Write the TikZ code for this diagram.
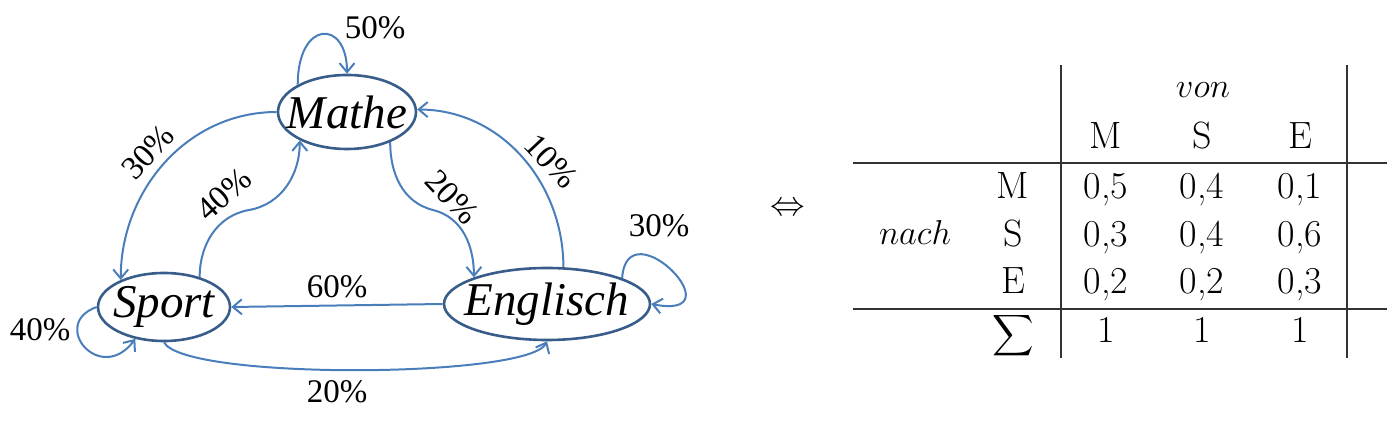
\documentclass[tikz,border=0pt]{standalone}
\usepackage{exscale}
\usepackage{fontspec}
\newfontfamily\tnr{Liberation Serif}
\usetikzlibrary{shapes.geometric,arrows.meta}
\definecolor{edgeblue}{HTML}{4A7EBB}
\definecolor{nodeblue}{HTML}{385D8A}
\begin{document}
\begin{tikzpicture}[x=0.5pt,y=0.5pt,
  state/.style={ellipse,draw=nodeblue,line width=1.3pt,inner sep=0pt,fill=white},
  stext/.style={font=\tnr\itshape\fontsize{23.5}{28}\selectfont,inner sep=0pt},
  edge/.style={draw=edgeblue,line width=1pt,-{Straight Barb[length=4.5pt,width=7.5pt]}},
  pct/.style={font=\tnr\fontsize{16.5}{20}\selectfont,inner sep=0pt},
  cell/.style={font=\fontsize{19}{23}\selectfont,anchor=base,inner sep=0pt},
  tablerule/.style={line width=0.7pt,draw=black!80}]
\useasboundingbox (0,0) rectangle (1397,-421);

% states
\node[state,minimum width=69pt,minimum height=37pt,label={[stext]center:Mathe}] (M) at (347,-112) {};
\node[state,minimum width=66pt,minimum height=34pt,label={[stext]center:Sport}] (S) at (164,-307) {};
\node[state,minimum width=103pt,minimum height=36pt,label={[stext]center:Englisch}] (E) at (547,-304) {};

% helper coordinates
\coordinate (k40) at (249,-210);
\coordinate (k20) at (433,-210);

% edges
\draw[edge] (M.180) to[out=180,in=90] (S.148);
\draw[edge] (S.40) to[out=90,in=190] (k40) to[out=10,in=-90] (M.211);
\draw[edge] (M.-35) to[out=-90,in=166] (k20) to[out=-14,in=90] (E.160);
\draw[edge] (E.66) to[out=90,in=0] (M.2);
\draw[edge] (E.180) -- (S.0);
\draw[edge] (S.270) .. controls +(20,-38) and +(-18,-37) .. (E.270);
% loops
\draw[edge] (M.151) .. controls +(0,65) and +(0,55) .. (M.90);
\draw[edge] (S.180) .. controls +(-48,-17) and +(-35,-47) .. (S.228);
\draw[edge] (E.19) .. controls +(5,72) and +(88,-17) .. (E.0);

% edge labels
\node[pct] (l50) at (375,-28) {50\%};
\node[pct,rotate=47] (l30a) at (148,-152) {30\%};
\node[pct,rotate=42] (l40a) at (224,-194) {40\%};
\node[pct,rotate=-47] (l20a) at (452,-197) {20\%};
\node[pct,rotate=-47] (l10) at (551,-161) {10\%};
\node[pct] (l60) at (337,-287) {60\%};
\node[pct] (l20b) at (337,-392) {20\%};
\node[pct] (l30b) at (659,-226) {30\%};
\node[pct] (l40b) at (40,-330) {40\%};

% equivalence
\node[cell,anchor=center] (iff) at (788,-209) {$\Leftrightarrow$};

% table
\node[cell] (von) at (1203,-98) {$von$};
\node[cell] (hM) at (1106,-149) {M};
\node[cell] (hS) at (1202,-149) {S};
\node[cell] (hE) at (1300,-149) {E};
\node[cell] (nach) at (915,-245) {$nach$};
\node[cell] (rM) at (1013,-199) {M};
\node[cell] (rS) at (1013,-247) {S};
\node[cell] (rE) at (1013,-294) {E};
\node[cell,font=\fontsize{14}{17}\selectfont] (rSum) at (1013,-343) {$\displaystyle\sum$};
\node[cell] (c11) at (1106,-199) {0,5};
\node[cell] (c12) at (1202,-199) {0,4};
\node[cell] (c13) at (1300,-199) {0,1};
\node[cell] (c21) at (1106,-247) {0,3};
\node[cell] (c22) at (1202,-247) {0,4};
\node[cell] (c23) at (1300,-247) {0,6};
\node[cell] (c31) at (1106,-294) {0,2};
\node[cell] (c32) at (1202,-294) {0,2};
\node[cell] (c33) at (1300,-294) {0,3};
\node[cell] (s1) at (1106,-343) {1};
\node[cell] (s2) at (1202,-343) {1};
\node[cell] (s3) at (1300,-343) {1};
\draw[tablerule] (1061,-65) -- (1061,-358);
\draw[tablerule] (1347,-65) -- (1347,-358);
\draw[tablerule] (853,-163) -- (1387,-163);
\draw[tablerule] (853,-309) -- (1387,-309);
\end{tikzpicture}
\end{document}
